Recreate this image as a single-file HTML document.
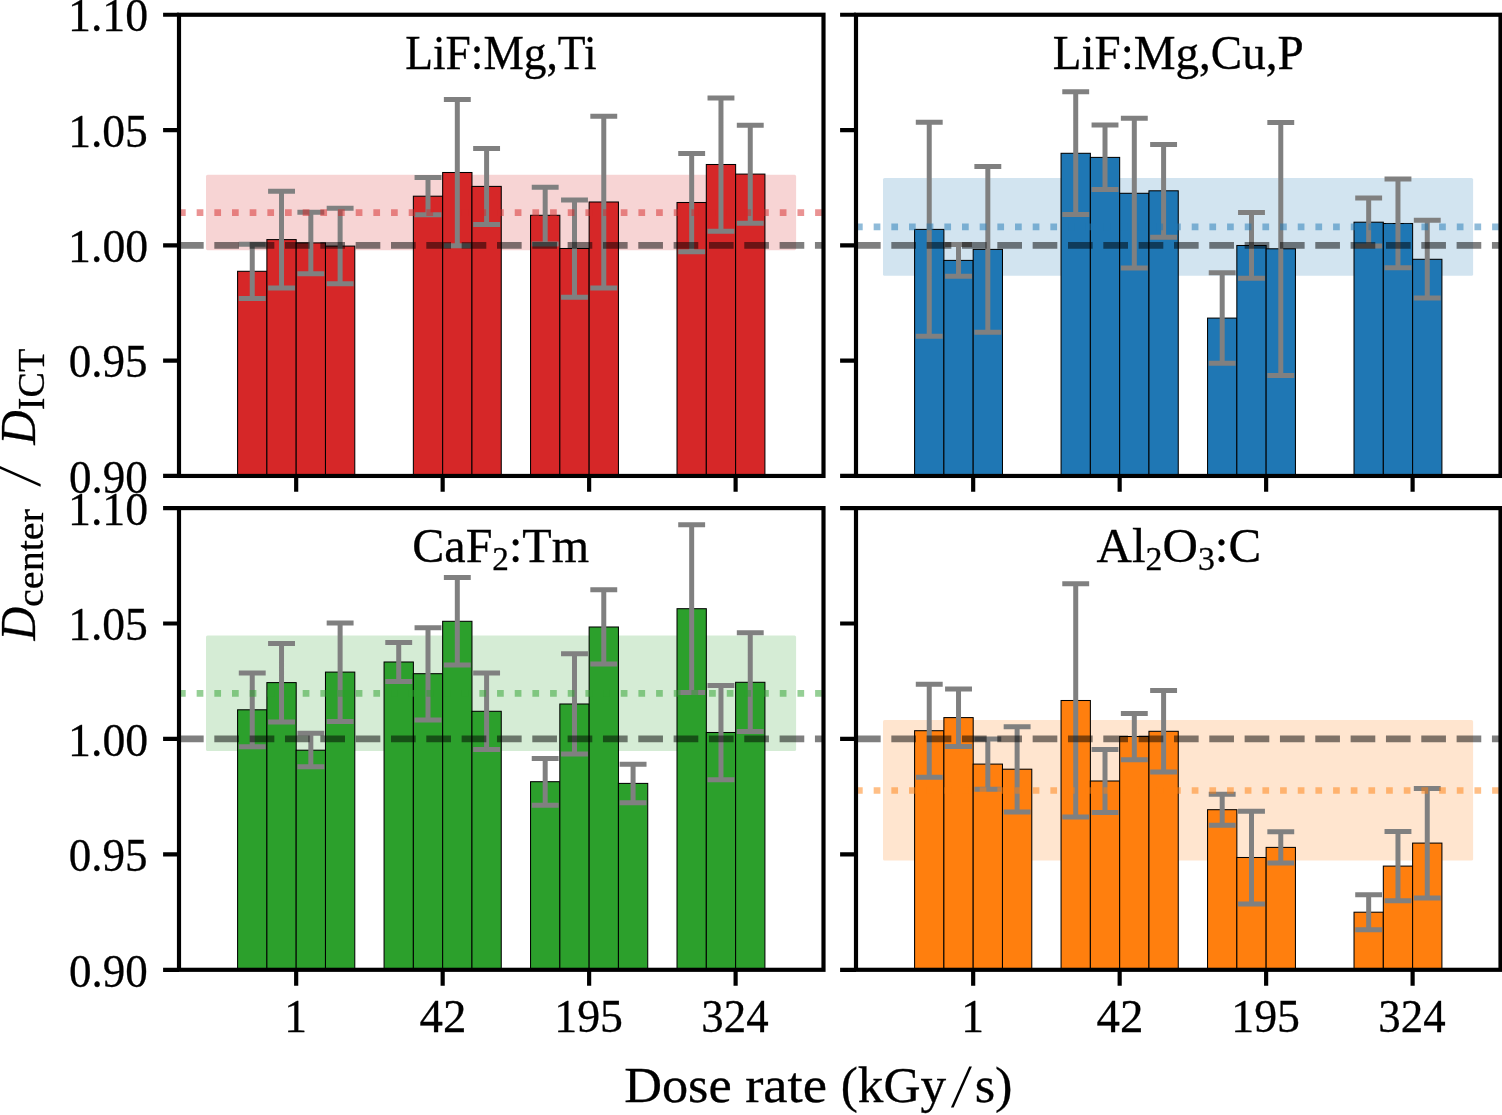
<!DOCTYPE html>
<html lang="en"><head><meta charset="utf-8"><title>Dose rate dependence</title>
<style>html,body{margin:0;padding:0;background:#fff}body{width:1502px;height:1115px;overflow:hidden}svg{display:block}text{font-family:"Liberation Serif",serif;fill:#000}.i{font-style:italic}</style></head><body>
<svg width="1502" height="1115" viewBox="0 0 1502 1115">
<rect width="1502" height="1115" fill="#fff"/>
<g id="P1">
<clipPath id="cP1"><rect x="179" y="14.75" width="644.5" height="461.2"/></clipPath>
<g clip-path="url(#cP1)">
<rect x="206" y="174.8" width="590.11" height="75.4" rx="1.6" fill="#d62728" fill-opacity="0.2"/>
<g fill="#d62728" stroke="#000" stroke-width="1.04">
<rect x="237.59" y="271.3" width="29.3" height="204.65"/>
<rect x="266.89" y="239.6" width="29.3" height="236.35"/>
<rect x="296.18" y="242.9" width="29.3" height="233.05"/>
<rect x="325.48" y="246.1" width="29.3" height="229.85"/>
<rect x="413.36" y="196.2" width="29.3" height="279.75"/>
<rect x="442.66" y="172.5" width="29.3" height="303.45"/>
<rect x="471.95" y="186.4" width="29.3" height="289.55"/>
<rect x="530.55" y="215.3" width="29.3" height="260.65"/>
<rect x="559.84" y="248.5" width="29.3" height="227.45"/>
<rect x="589.14" y="202" width="29.3" height="273.95"/>
<rect x="677.02" y="202.5" width="29.3" height="273.45"/>
<rect x="706.32" y="164.5" width="29.3" height="311.45"/>
<rect x="735.61" y="174.1" width="29.3" height="301.85"/>
</g>
<path d="M252.24 244.2V298.4M238.79 244.2h26.9M238.79 298.4h26.9M281.53 191.3V288.1M268.08 191.3h26.9M268.08 288.1h26.9M310.83 212.3V273.7M297.38 212.3h26.9M297.38 273.7h26.9M340.12 208.3V283.8M326.68 208.3h26.9M326.68 283.8h26.9M428.01 177.5V214.7M414.56 177.5h26.9M414.56 214.7h26.9M457.31 99.4V245.7M443.86 99.4h26.9M443.86 245.7h26.9M486.6 148.4V224.6M473.15 148.4h26.9M473.15 224.6h26.9M545.19 187.2V244M531.74 187.2h26.9M531.74 244h26.9M574.49 199.9V297.3M561.04 199.9h26.9M561.04 297.3h26.9M603.78 116.2V287.9M590.33 116.2h26.9M590.33 287.9h26.9M691.67 153.4V251.7M678.22 153.4h26.9M678.22 251.7h26.9M720.97 98.1V231.3M707.52 98.1h26.9M707.52 231.3h26.9M750.26 125.2V223.3M736.81 125.2h26.9M736.81 223.3h26.9" fill="none" stroke="#808080" stroke-width="5"/>
<line x1="179" y1="212.7" x2="823.5" y2="212.7" stroke="#d62728" stroke-opacity="0.5" stroke-width="6.7" stroke-dasharray="6.7 10.97"/>
<line x1="179" y1="245.35" x2="823.5" y2="245.35" stroke="#000" stroke-opacity="0.5" stroke-width="6.7" stroke-dasharray="24.67 10.66"/>
</g>
<path d="M163.1 14.75H179M163.1 130.05H179M163.1 245.35H179M163.1 360.65H179M163.1 475.95H179M296.18 475.95V491.85M442.66 475.95V491.85M589.14 475.95V491.85M735.61 475.95V491.85" fill="none" stroke="#000" stroke-width="4.17"/>
<rect x="179" y="14.75" width="644.5" height="461.2" fill="none" stroke="#000" stroke-width="4.17"/>
</g>
<g id="P2">
<clipPath id="cP2"><rect x="856" y="14.75" width="644.5" height="461.2"/></clipPath>
<g clip-path="url(#cP2)">
<rect x="883" y="177.9" width="590.11" height="97.9" rx="1.6" fill="#1f77b4" fill-opacity="0.2"/>
<g fill="#1f77b4" stroke="#000" stroke-width="1.04">
<rect x="914.59" y="229.4" width="29.3" height="246.55"/>
<rect x="943.89" y="260.4" width="29.3" height="215.55"/>
<rect x="973.18" y="249.4" width="29.3" height="226.55"/>
<rect x="1061.07" y="153.3" width="29.3" height="322.65"/>
<rect x="1090.36" y="157.4" width="29.3" height="318.55"/>
<rect x="1119.66" y="193.3" width="29.3" height="282.65"/>
<rect x="1148.95" y="190.8" width="29.3" height="285.15"/>
<rect x="1207.55" y="318.1" width="29.3" height="157.85"/>
<rect x="1236.84" y="245.5" width="29.3" height="230.45"/>
<rect x="1266.14" y="248.8" width="29.3" height="227.15"/>
<rect x="1354.02" y="222.2" width="29.3" height="253.75"/>
<rect x="1383.32" y="223.5" width="29.3" height="252.45"/>
<rect x="1412.61" y="259.3" width="29.3" height="216.65"/>
</g>
<path d="M929.24 122.2V336.3M915.79 122.2h26.9M915.79 336.3h26.9M958.53 244.6V276.3M945.08 244.6h26.9M945.08 276.3h26.9M987.83 166.5V332.2M974.38 166.5h26.9M974.38 332.2h26.9M1075.72 91.8V214.5M1062.27 91.8h26.9M1062.27 214.5h26.9M1105.01 125V189.5M1091.56 125h26.9M1091.56 189.5h26.9M1134.31 118.3V268.1M1120.86 118.3h26.9M1120.86 268.1h26.9M1163.6 144.6V237.3M1150.15 144.6h26.9M1150.15 237.3h26.9M1222.19 272.8V363.3M1208.74 272.8h26.9M1208.74 363.3h26.9M1251.49 212.6V278.2M1238.04 212.6h26.9M1238.04 278.2h26.9M1280.78 122.4V375.4M1267.33 122.4h26.9M1267.33 375.4h26.9M1368.67 197.9V246.1M1355.22 197.9h26.9M1355.22 246.1h26.9M1397.97 179V267.7M1384.52 179h26.9M1384.52 267.7h26.9M1427.26 220.3V298.1M1413.81 220.3h26.9M1413.81 298.1h26.9" fill="none" stroke="#808080" stroke-width="5"/>
<line x1="856" y1="226.8" x2="1500.5" y2="226.8" stroke="#1f77b4" stroke-opacity="0.5" stroke-width="6.7" stroke-dasharray="6.7 10.97"/>
<line x1="856" y1="245.35" x2="1500.5" y2="245.35" stroke="#000" stroke-opacity="0.5" stroke-width="6.7" stroke-dasharray="24.67 10.66"/>
</g>
<path d="M840.1 14.75H856M840.1 130.05H856M840.1 245.35H856M840.1 360.65H856M840.1 475.95H856M973.18 475.95V491.85M1119.66 475.95V491.85M1266.14 475.95V491.85M1412.61 475.95V491.85" fill="none" stroke="#000" stroke-width="4.17"/>
<rect x="856" y="14.75" width="644.5" height="461.2" fill="none" stroke="#000" stroke-width="4.17"/>
</g>
<g id="P3">
<clipPath id="cP3"><rect x="179" y="508.1" width="644.5" height="461.7"/></clipPath>
<g clip-path="url(#cP3)">
<rect x="206" y="635.5" width="590.11" height="115.6" rx="1.6" fill="#2ca02c" fill-opacity="0.2"/>
<g fill="#2ca02c" stroke="#000" stroke-width="1.04">
<rect x="237.59" y="709.8" width="29.3" height="260"/>
<rect x="266.89" y="682.6" width="29.3" height="287.2"/>
<rect x="296.18" y="750.2" width="29.3" height="219.6"/>
<rect x="325.48" y="672.1" width="29.3" height="297.7"/>
<rect x="384.07" y="662" width="29.3" height="307.8"/>
<rect x="413.36" y="673.7" width="29.3" height="296.1"/>
<rect x="442.66" y="621.3" width="29.3" height="348.5"/>
<rect x="471.95" y="711.3" width="29.3" height="258.5"/>
<rect x="530.55" y="781.7" width="29.3" height="188.1"/>
<rect x="559.84" y="704" width="29.3" height="265.8"/>
<rect x="589.14" y="627" width="29.3" height="342.8"/>
<rect x="618.43" y="783.4" width="29.3" height="186.4"/>
<rect x="677.02" y="608.7" width="29.3" height="361.1"/>
<rect x="706.32" y="732.5" width="29.3" height="237.3"/>
<rect x="735.61" y="682.3" width="29.3" height="287.5"/>
</g>
<path d="M252.24 673V746.8M238.79 673h26.9M238.79 746.8h26.9M281.53 643.5V722M268.08 643.5h26.9M268.08 722h26.9M310.83 733.2V766.8M297.38 733.2h26.9M297.38 766.8h26.9M340.12 623V721.4M326.68 623h26.9M326.68 721.4h26.9M398.72 642.6V681.6M385.27 642.6h26.9M385.27 681.6h26.9M428.01 627.8V719.9M414.56 627.8h26.9M414.56 719.9h26.9M457.31 577.6V665M443.86 577.6h26.9M443.86 665h26.9M486.6 673V749.6M473.15 673h26.9M473.15 749.6h26.9M545.19 758.4V805.3M531.74 758.4h26.9M531.74 805.3h26.9M574.49 653.8V754.1M561.04 653.8h26.9M561.04 754.1h26.9M603.78 589.7V663.9M590.33 589.7h26.9M590.33 663.9h26.9M633.08 764.2V802.7M619.63 764.2h26.9M619.63 802.7h26.9M691.67 524.7V692.6M678.22 524.7h26.9M678.22 692.6h26.9M720.97 685.4V779.7M707.52 685.4h26.9M707.52 779.7h26.9M750.26 632.8V731.4M736.81 632.8h26.9M736.81 731.4h26.9" fill="none" stroke="#808080" stroke-width="5"/>
<line x1="179" y1="693.4" x2="823.5" y2="693.4" stroke="#2ca02c" stroke-opacity="0.5" stroke-width="6.7" stroke-dasharray="6.7 10.97"/>
<line x1="179" y1="738.95" x2="823.5" y2="738.95" stroke="#000" stroke-opacity="0.5" stroke-width="6.7" stroke-dasharray="24.67 10.66"/>
</g>
<path d="M163.1 508.1H179M163.1 623.52H179M163.1 738.95H179M163.1 854.38H179M163.1 969.8H179M296.18 969.8V985.7M442.66 969.8V985.7M589.14 969.8V985.7M735.61 969.8V985.7" fill="none" stroke="#000" stroke-width="4.17"/>
<rect x="179" y="508.1" width="644.5" height="461.7" fill="none" stroke="#000" stroke-width="4.17"/>
</g>
<g id="P4">
<clipPath id="cP4"><rect x="856" y="508.1" width="644.5" height="461.7"/></clipPath>
<g clip-path="url(#cP4)">
<rect x="883" y="720.1" width="590.11" height="140.4" rx="1.6" fill="#ff7f0e" fill-opacity="0.2"/>
<g fill="#ff7f0e" stroke="#000" stroke-width="1.04">
<rect x="914.59" y="730.7" width="29.3" height="239.1"/>
<rect x="943.89" y="717.6" width="29.3" height="252.2"/>
<rect x="973.18" y="764.1" width="29.3" height="205.7"/>
<rect x="1002.48" y="769.2" width="29.3" height="200.6"/>
<rect x="1061.07" y="700.5" width="29.3" height="269.3"/>
<rect x="1090.36" y="781" width="29.3" height="188.8"/>
<rect x="1119.66" y="736.5" width="29.3" height="233.3"/>
<rect x="1148.95" y="731.3" width="29.3" height="238.5"/>
<rect x="1207.55" y="809.7" width="29.3" height="160.1"/>
<rect x="1236.84" y="857.5" width="29.3" height="112.3"/>
<rect x="1266.14" y="847.4" width="29.3" height="122.4"/>
<rect x="1354.02" y="912.2" width="29.3" height="57.6"/>
<rect x="1383.32" y="866.1" width="29.3" height="103.7"/>
<rect x="1412.61" y="843.1" width="29.3" height="126.7"/>
</g>
<path d="M929.24 684.2V777.3M915.79 684.2h26.9M915.79 777.3h26.9M958.53 689.1V746.4M945.08 689.1h26.9M945.08 746.4h26.9M987.83 739V789.2M974.38 739h26.9M974.38 789.2h26.9M1017.12 726.8V812M1003.67 726.8h26.9M1003.67 812h26.9M1075.72 583.7V817.1M1062.27 583.7h26.9M1062.27 817.1h26.9M1105.01 749.4V812.6M1091.56 749.4h26.9M1091.56 812.6h26.9M1134.31 713.4V759.7M1120.86 713.4h26.9M1120.86 759.7h26.9M1163.6 690.6V772M1150.15 690.6h26.9M1150.15 772h26.9M1222.19 794.3V825.2M1208.74 794.3h26.9M1208.74 825.2h26.9M1251.49 811.3V904M1238.04 811.3h26.9M1238.04 904h26.9M1280.78 831.7V863.1M1267.33 831.7h26.9M1267.33 863.1h26.9M1368.67 894.7V929.8M1355.22 894.7h26.9M1355.22 929.8h26.9M1397.97 831.5V900.8M1384.52 831.5h26.9M1384.52 900.8h26.9M1427.26 788.4V898M1413.81 788.4h26.9M1413.81 898h26.9" fill="none" stroke="#808080" stroke-width="5"/>
<line x1="856" y1="790.5" x2="1500.5" y2="790.5" stroke="#ff7f0e" stroke-opacity="0.5" stroke-width="6.7" stroke-dasharray="6.7 10.97"/>
<line x1="856" y1="738.95" x2="1500.5" y2="738.95" stroke="#000" stroke-opacity="0.5" stroke-width="6.7" stroke-dasharray="24.67 10.66"/>
</g>
<path d="M840.1 508.1H856M840.1 623.52H856M840.1 738.95H856M840.1 854.38H856M840.1 969.8H856M973.18 969.8V985.7M1119.66 969.8V985.7M1266.14 969.8V985.7M1412.61 969.8V985.7" fill="none" stroke="#000" stroke-width="4.17"/>
<rect x="856" y="508.1" width="644.5" height="461.7" fill="none" stroke="#000" stroke-width="4.17"/>
</g>
<text transform="translate(68 31.45) scale(0.9752 1)" font-size="47" stroke="#000" stroke-width="0.3">1.10</text>
<text transform="translate(68.13 146.75) scale(0.9686 1)" font-size="47" stroke="#000" stroke-width="0.3">1.05</text>
<text transform="translate(68.1 262.05) scale(0.9739 1)" font-size="47" stroke="#000" stroke-width="0.3">1.00</text>
<text transform="translate(68.82 377.35) scale(0.9587 1)" font-size="47" stroke="#000" stroke-width="0.3">0.95</text>
<text transform="translate(68.92 492.65) scale(0.9587 1)" font-size="47" stroke="#000" stroke-width="0.3">0.90</text>
<text transform="translate(405.21 69.05) scale(0.9504 1)" font-size="47.8" stroke="#000" stroke-width="0.3">LiF:Mg,Ti</text>
<text transform="translate(1052.77 69.05) scale(0.9837 1)" font-size="47.8" stroke="#000" stroke-width="0.3">LiF:Mg,Cu,P</text>
<text transform="translate(68 524.8) scale(0.9752 1)" font-size="47" stroke="#000" stroke-width="0.3">1.10</text>
<text transform="translate(68.13 640.23) scale(0.9686 1)" font-size="47" stroke="#000" stroke-width="0.3">1.05</text>
<text transform="translate(68.1 755.65) scale(0.9739 1)" font-size="47" stroke="#000" stroke-width="0.3">1.00</text>
<text transform="translate(68.82 871.08) scale(0.9587 1)" font-size="47" stroke="#000" stroke-width="0.3">0.95</text>
<text transform="translate(68.92 986.5) scale(0.9587 1)" font-size="47" stroke="#000" stroke-width="0.3">0.90</text>
<text transform="translate(284.13 1032.4) scale(0.9672 1)" font-size="47" stroke="#000" stroke-width="0.3">1</text>
<text transform="translate(419.55 1032.4) scale(0.9966 1)" font-size="47" stroke="#000" stroke-width="0.3">42</text>
<text transform="translate(554.3 1032.4) scale(0.9745 1)" font-size="47" stroke="#000" stroke-width="0.3">195</text>
<text transform="translate(701.29 1032.4) scale(0.9544 1)" font-size="47" stroke="#000" stroke-width="0.3">324</text>
<text transform="translate(412.24 562.4) scale(1.0058 1)" font-size="47.8" stroke="#000" stroke-width="0.3">CaF<tspan dy="7.4" font-size="33">2</tspan><tspan dy="-7.4">:Tm</tspan></text>
<text transform="translate(961.13 1032.4) scale(0.9672 1)" font-size="47" stroke="#000" stroke-width="0.3">1</text>
<text transform="translate(1096.55 1032.4) scale(0.9966 1)" font-size="47" stroke="#000" stroke-width="0.3">42</text>
<text transform="translate(1231.3 1032.4) scale(0.9745 1)" font-size="47" stroke="#000" stroke-width="0.3">195</text>
<text transform="translate(1378.29 1032.4) scale(0.9544 1)" font-size="47" stroke="#000" stroke-width="0.3">324</text>
<text transform="translate(1096.54 562.4) scale(1.0257 1)" font-size="47.8" stroke="#000" stroke-width="0.3">Al<tspan dy="7.4" font-size="33">2</tspan><tspan dy="-7.4">O</tspan><tspan dy="7.4" font-size="33">3</tspan><tspan dy="-7.4">:C</tspan></text>
<g id="xlabel">
<text transform="translate(624.13 1102) scale(1.0165 1)" font-size="51.5" stroke="#000" stroke-width="0.3">Dose</text>
<text transform="translate(745.14 1102) scale(1.0617 1)" font-size="51.5" stroke="#000" stroke-width="0.3">rate</text>
<text transform="translate(840.71 1102) scale(0.9957 1)" font-size="51.5" stroke="#000" stroke-width="0.3">(kGy</text>
<text transform="translate(950.9 1106.6) skewX(-7.5) scale(1 1.098)" font-size="56">/</text>
<text transform="translate(974.66 1102) scale(1.0212 1)" font-size="51.5" stroke="#000" stroke-width="0.3">s)</text>
</g>
<g id="ylabel" transform="translate(35.3 641.3) rotate(-90)">
<text transform="translate(0.68 0) scale(0.9047 1)" font-size="51.5" class="i" stroke="#000" stroke-width="0.3">D</text>
<text transform="translate(34.38 7.4) scale(1.0546 1)" font-size="38" stroke="#000" stroke-width="0.3">center</text>
<text transform="translate(154.5 5) skewX(-7.5) scale(1 1.098)" font-size="56">/</text>
<text transform="translate(196.59 0) scale(0.9262 1)" font-size="51.5" class="i" stroke="#000" stroke-width="0.3">D</text>
<text transform="translate(231.15 8.7) scale(1.0034 1)" font-size="38" stroke="#000" stroke-width="0.3">ICT</text>
</g>
</svg></body></html>
